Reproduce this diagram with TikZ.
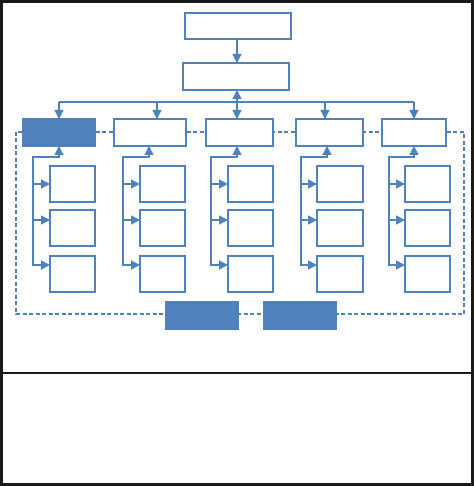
\documentclass[tikz,border=0pt]{standalone}
\usetikzlibrary{arrows.meta}
\definecolor{ob}{HTML}{4F81BD}
\begin{document}
\begin{tikzpicture}[x=1pt,y=-1pt,
  box/.style={draw=ob,fill=white,line width=1.8pt,inner sep=0pt,outer sep=0pt},
  fbox/.style={draw=ob,fill=ob,line width=1.8pt,inner sep=0pt,outer sep=0pt},
  conn/.style={draw=ob,line width=1.3pt},
  arr/.style={conn,-{Triangle[length=9pt,width=9pt]}},
  darr/.style={conn,{Triangle[length=9pt,width=9pt]}-{Triangle[length=9pt,width=9pt]}},
  frame/.style={draw=black!90,line width=3pt},
  dashline/.style={draw=ob,line width=1.2pt,dash pattern=on 4pt off 2.5pt}]
\useasboundingbox (0,0) rectangle (474,486);
\fill[white] (0,0) rectangle (474,486);
% outer frame
\coordinate (fa) at (1.5,1.5);
\coordinate (fb) at (472.5,484.5);
\draw[frame] (fa) rectangle (fb);
\coordinate (la) at (0,373);
\coordinate (lb) at (474,373);
\draw[frame,line width=2.5pt] (la) -- (lb);
% dashed region
\coordinate (da) at (16,132);
\coordinate (db) at (464,314);
\draw[dashline] (da) rectangle (db);
% top boxes
\node[box,minimum width=106pt,minimum height=26pt] (T) at (238,26) {};
\node[box,minimum width=106pt,minimum height=27pt] (S) at (236,76.5) {};
% row boxes
\node[fbox,minimum width=72pt,minimum height=27pt] (R1) at (59,132.5) {};
\node[box,minimum width=72pt,minimum height=27pt] (R2) at (150,132.5) {};
\node[box,minimum width=67pt,minimum height=27pt] (R3) at (239.5,132.5) {};
\node[box,minimum width=67pt,minimum height=27pt] (R4) at (329.5,132.5) {};
\node[box,minimum width=64pt,minimum height=27pt] (R5) at (414,132.5) {};
% bottom boxes
\node[fbox,minimum width=72pt,minimum height=27pt] (B1) at (202,315.5) {};
\node[fbox,minimum width=72pt,minimum height=27pt] (B2) at (300,315.5) {};
% top arrow
\coordinate (tc) at (237,0);
\draw[arr] (T.south -| tc) -- (S.north -| tc);
% bus
\coordinate (b1) at (59,102);
\coordinate (b2) at (157,102);
\coordinate (b3) at (237,102);
\coordinate (b4) at (325,102);
\coordinate (b5) at (414,102);
\draw[conn] (b1) -- (b5);
\draw[arr] (b1) -- (b1 |- R1.north);
\draw[arr] (b2) -- (b2 |- R2.north);
\draw[arr] (b4) -- (b4 |- R4.north);
\draw[arr] (b5) -- (b5 |- R5.north);
\draw[darr] (S.south -| b3) -- (R3.north -| b3);
% children columns
\foreach \i/\sx/\ux/\cx/\cw in {1/33/59/72.5/45, 2/123/149/162.5/45, 3/211/237/250.5/45, 4/301/327/340/46, 5/389/414/427.5/45}{
  \node[box,minimum width=\cw pt,minimum height=36pt] (C\i-1) at (\cx,184) {};
  \node[box,minimum width=\cw pt,minimum height=36pt] (C\i-2) at (\cx,228) {};
  \node[box,minimum width=\cw pt,minimum height=36pt] (C\i-3) at (\cx,274) {};
  \coordinate (u\i) at (\ux,157);
  \coordinate (t\i) at (\sx,157);
  \coordinate (h\i-1) at (\sx,184);
  \coordinate (h\i-2) at (\sx,220);
  \coordinate (h\i-3) at (\sx,265);
  \draw[darr] (R\i.south -| u\i) -- (u\i) -- (t\i) -- (h\i-3) -- (h\i-3 -| C\i-3.west);
  \draw[arr] (h\i-1) -- (h\i-1 -| C\i-1.west);
  \draw[arr] (h\i-2) -- (h\i-2 -| C\i-2.west);
}
\end{tikzpicture}
\end{document}
